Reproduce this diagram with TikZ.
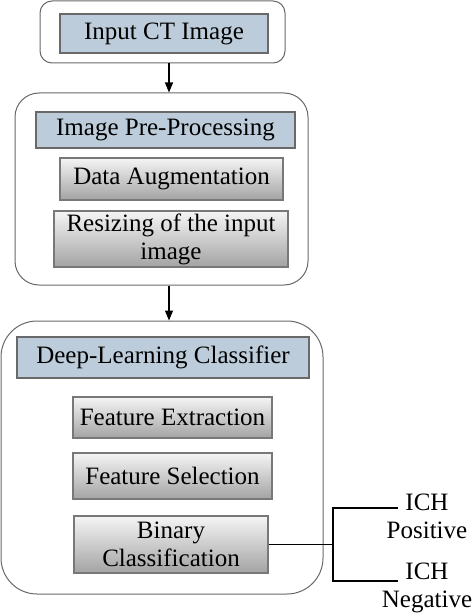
\documentclass[tikz,border=0pt]{standalone}
\usepackage{fontspec}
\setmainfont{Liberation Serif}
\usepackage{tikz}
\usetikzlibrary{arrows}
\usetikzlibrary{arrows.meta}
\usetikzlibrary{calc}
\definecolor{headblue}{RGB}{188,204,218}
\definecolor{framegray}{RGB}{105,105,105}
\definecolor{stepgray}{RGB}{120,120,120}

\begin{document}
\begin{tikzpicture}[x=1pt, y=-1pt, font=\fontsize{25}{28}\selectfont]
\tikzstyle{pointer} = [-{Triangle[length=10pt,width=8pt]}, line width=1.2pt]
\tikzstyle{outer} = [draw=framegray, line width=1pt, fill=white, inner sep=0pt]
\tikzstyle{head} = [draw=framegray, line width=1.2pt, fill=headblue, inner sep=0pt, align=center]
\tikzstyle{stepbox} = [draw=stepgray, line width=1.2pt, top color=white!96!black, bottom color=black!36, inner sep=0pt, align=center]
\useasboundingbox (0,0) rectangle (474,615);

% outer frames
\node[outer, rounded corners=12pt, minimum width=245pt, minimum height=62pt] (box1) at (162.5,32) {};
\node[outer, rounded corners=24pt, minimum width=293pt, minimum height=192pt] (box2) at (161.5,189) {};
\node[outer, rounded corners=36pt, minimum width=322pt, minimum height=273pt] (box3) at (162,457.5) {};

% inner boxes
\node[head, minimum width=208pt, minimum height=39pt] (ct) at (164,33.5) {Input CT Image};
\node[head, minimum width=259pt, minimum height=36pt] (prep) at (165.5,130) {Image Pre-Processing};
\node[stepbox, minimum width=223pt, minimum height=42pt] (aug) at (171.5,179) {Data Augmentation};
\node[stepbox, minimum width=234pt, minimum height=56pt] (resize) at (171,239) {Resizing of the input\\image};
\node[head, minimum width=292pt, minimum height=41pt] (dlc) at (163,357.5) {Deep-Learning Classifier};
\node[stepbox, minimum width=199pt, minimum height=41pt] (fext) at (172.5,417.5) {Feature Extraction};
\node[stepbox, minimum width=199pt, minimum height=46pt] (fsel) at (172.5,476) {Feature Selection};
\node[stepbox, minimum width=194pt, minimum height=57pt] (bin) at (171,544.5) {Binary\\Classification};

% outputs
\node[align=center] (pos) at (427,516) {ICH\\Positive};
\node[align=center] (neg) at (427,588) {ICH\\Negative};

% connectors
\draw[pointer] ([xshift=6.5pt]box1.south) -- ([xshift=6.5pt]box1.south |- box2.north);
\draw[pointer] ([xshift=7.5pt]box2.south) -- ([xshift=7.5pt]box2.south |- box3.north);
\coordinate (fork) at (333,544.5);
\coordinate (posend) at (398,508);
\coordinate (negend) at (398,581);
\draw[line width=1.2pt] (bin.east) -- (fork);
\draw[line width=1.2pt] (posend) -| (fork) |- (negend);
\end{tikzpicture}
\end{document}
